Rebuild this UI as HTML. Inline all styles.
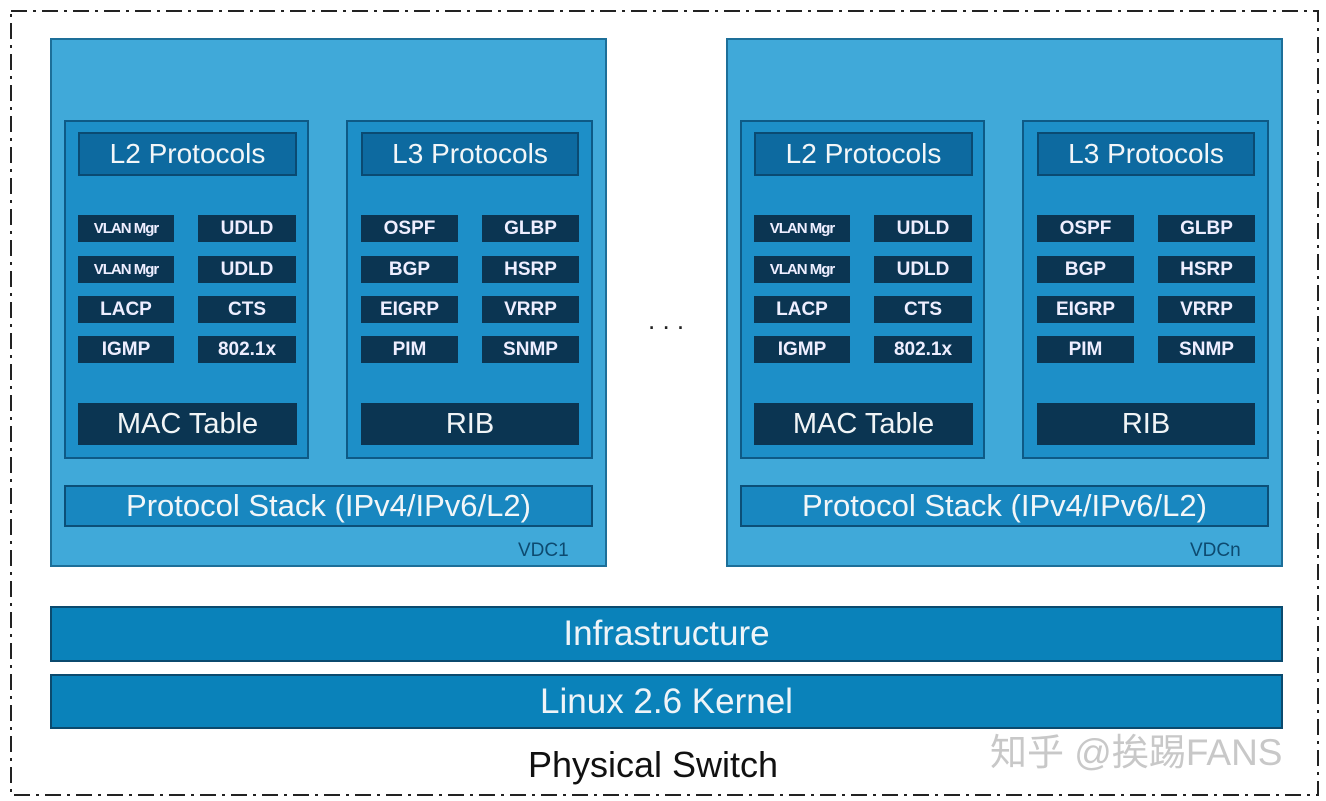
<!DOCTYPE html>
<html><head><meta charset="utf-8"><style>
body{margin:0;width:1326px;height:801px;background:#fff;position:relative;overflow:hidden;font-family:"Liberation Sans",sans-serif}
div{position:absolute;box-sizing:border-box}
.vdc{background:#40a9d9;border:2px solid #1d6f99;top:38px;width:557px;height:529px}
.pan{background:#1d8fc8;border:2px solid #0e5a86;top:120px;height:339px}
.hdr{background:#0d6aa0;border:2px solid #0a4a72;color:#f2f6f8;font-size:28px;text-align:center;line-height:40px;top:132px;height:44px}
.s{background:#0b3552;color:#eef;text-align:center;font-size:19px;line-height:27px;height:27px;font-weight:bold}
.sm{font-size:15px;letter-spacing:-1px}
.big{background:#0b3552;color:#f0f4f6;text-align:center;font-size:29px;line-height:42px;top:403px;height:42px}
.ps{background:#1887c0;border:2px solid #0b4f78;color:#f2f6f8;font-size:31px;text-align:center;line-height:37px;top:485px;height:42px}
.lbl{color:#0d4a70;font-size:19px;top:540px}
.bar{left:50px;width:1233px;background:#0a82ba;border:2px solid #0b4a6e;color:#eef4f8;font-size:35px;text-align:center}
</style></head><body>
<svg style="position:absolute;left:0;top:0" width="1326" height="801"><rect x="11" y="11" width="1307" height="784" fill="none" stroke="#222" stroke-width="2" stroke-dasharray="16,6,3,6"/></svg>

<div class="vdc" style="left:50px"></div>
<div class="pan" style="left:64px;width:245px"></div>
<div class="pan" style="left:346px;width:247px"></div>
<div class="hdr" style="left:78px;width:219px">L2 Protocols</div>
<div class="hdr" style="left:361px;width:218px">L3 Protocols</div>
<div class="s sm" style="left:78px;top:215px;width:96px">VLAN Mgr</div>
<div class="s" style="left:198px;top:215px;width:98px">UDLD</div>
<div class="s sm" style="left:78px;top:256px;width:96px">VLAN Mgr</div>
<div class="s" style="left:198px;top:256px;width:98px">UDLD</div>
<div class="s" style="left:78px;top:296px;width:96px">LACP</div>
<div class="s" style="left:198px;top:296px;width:98px">CTS</div>
<div class="s" style="left:78px;top:336px;width:96px">IGMP</div>
<div class="s" style="left:198px;top:336px;width:98px">802.1x</div>
<div class="s" style="left:361px;top:215px;width:97px">OSPF</div>
<div class="s" style="left:482px;top:215px;width:97px">GLBP</div>
<div class="s" style="left:361px;top:256px;width:97px">BGP</div>
<div class="s" style="left:482px;top:256px;width:97px">HSRP</div>
<div class="s" style="left:361px;top:296px;width:97px">EIGRP</div>
<div class="s" style="left:482px;top:296px;width:97px">VRRP</div>
<div class="s" style="left:361px;top:336px;width:97px">PIM</div>
<div class="s" style="left:482px;top:336px;width:97px">SNMP</div>
<div class="big" style="left:78px;width:219px">MAC Table</div>
<div class="big" style="left:361px;width:218px">RIB</div>
<div class="ps" style="left:64px;width:529px">Protocol Stack (IPv4/IPv6/L2)</div>
<div class="lbl" style="left:518px">VDC1</div>

<div style="left:648px;top:305px;font-size:26px;color:#222">. . .</div>

<div class="vdc" style="left:726px"></div>
<div class="pan" style="left:740px;width:245px"></div>
<div class="pan" style="left:1022px;width:247px"></div>
<div class="hdr" style="left:754px;width:219px">L2 Protocols</div>
<div class="hdr" style="left:1037px;width:218px">L3 Protocols</div>
<div class="s sm" style="left:754px;top:215px;width:96px">VLAN Mgr</div>
<div class="s" style="left:874px;top:215px;width:98px">UDLD</div>
<div class="s sm" style="left:754px;top:256px;width:96px">VLAN Mgr</div>
<div class="s" style="left:874px;top:256px;width:98px">UDLD</div>
<div class="s" style="left:754px;top:296px;width:96px">LACP</div>
<div class="s" style="left:874px;top:296px;width:98px">CTS</div>
<div class="s" style="left:754px;top:336px;width:96px">IGMP</div>
<div class="s" style="left:874px;top:336px;width:98px">802.1x</div>
<div class="s" style="left:1037px;top:215px;width:97px">OSPF</div>
<div class="s" style="left:1158px;top:215px;width:97px">GLBP</div>
<div class="s" style="left:1037px;top:256px;width:97px">BGP</div>
<div class="s" style="left:1158px;top:256px;width:97px">HSRP</div>
<div class="s" style="left:1037px;top:296px;width:97px">EIGRP</div>
<div class="s" style="left:1158px;top:296px;width:97px">VRRP</div>
<div class="s" style="left:1037px;top:336px;width:97px">PIM</div>
<div class="s" style="left:1158px;top:336px;width:97px">SNMP</div>
<div class="big" style="left:754px;width:219px">MAC Table</div>
<div class="big" style="left:1037px;width:218px">RIB</div>
<div class="ps" style="left:740px;width:529px">Protocol Stack (IPv4/IPv6/L2)</div>
<div class="lbl" style="left:1190px">VDCn</div>

<div class="bar" style="top:606px;height:56px;line-height:52px">Infrastructure</div>
<div class="bar" style="top:674px;height:55px;line-height:52px">Linux 2.6 Kernel</div>
<div style="left:0;width:1306px;top:744px;text-align:center;font-size:36px;color:#111">Physical Switch</div>
<div style="left:990px;top:722px;font-size:37px;color:#c8c8c8;font-family:'Liberation Sans','Noto Sans CJK SC',sans-serif">知乎 @挨踢FANS</div>
</body></html>
